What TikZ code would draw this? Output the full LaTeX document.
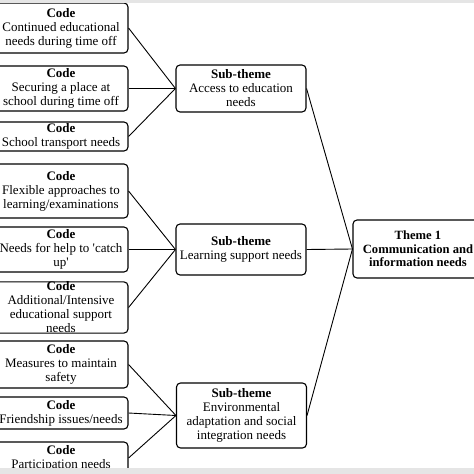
\documentclass[tikz,border=0pt]{standalone}
\usepackage{fontspec}
\setmainfont{Liberation Serif}
\begin{document}
\begin{tikzpicture}[x=1pt,y=-1pt,
  box/.style={draw,line width=1.1pt,rounded corners=4pt,align=center,inner sep=0pt,
    font=\fontsize{13}{14}\selectfont},
  codebox/.style={box,minimum width=134pt},
  subbox/.style={box,minimum width=130pt},
  link/.style={line width=0.9pt}]
\useasboundingbox (0,0) rectangle (474,474);
% codes
\node[codebox,minimum height=50pt] (c1) at (61,28) {\textbf{Code}\\Continued educational\\needs during time off};
\node[codebox,minimum height=45pt] (c2) at (61,88.5) {\textbf{Code}\\Securing a place at\\school during time off};
\node[codebox,minimum height=29pt] (c3) at (61,136.5) {\textbf{Code}\\School transport needs};
\node[codebox,minimum height=54pt] (c4) at (61,191) {\textbf{Code}\\Flexible approaches to\\learning/examinations};
\node[codebox,minimum height=45pt] (c5) at (61,249.5) {\textbf{Code}\\Needs for help to \textquotesingle catch\\up\textquotesingle};
\node[codebox,minimum height=51pt] (c6) at (61,307.5) {\textbf{Code}\\Additional/Intensive\\educational support\\needs};
\node[codebox,minimum height=47pt] (c7) at (61,364.5) {\textbf{Code}\\Measures to maintain\\safety};
\node[codebox,minimum height=32pt] (c8) at (61,413) {\textbf{Code}\\Friendship issues/needs};
\node[codebox,minimum height=32pt] (c9) at (61,458) {\textbf{Code}\\Participation needs};
% sub-themes
\node[subbox,minimum height=47pt] (s1) at (241,88.5) {\textbf{Sub-theme}\\Access to education\\needs};
\node[subbox,minimum height=51pt] (s2) at (241,249.5) {\textbf{Sub-theme}\\Learning support needs};
\node[subbox,minimum height=65pt] (s3) at (241.5,415.5) {\textbf{Sub-theme}\\Environmental\\adaptation and social\\integration needs};
% theme
\node[box,minimum width=130pt,minimum height=58pt,font=\fontsize{12.6}{13.5}\selectfont\bfseries] (t1) at (418,249) {Theme 1\\Communication and\\information needs};
% links
\foreach \c in {c1,c2,c3} \draw[link] (\c.east) -- (s1.west);
\foreach \c in {c4,c5,c6} \draw[link] (\c.east) -- (s2.west);
\foreach \c in {c7,c8,c9} \draw[link] (\c.east) -- (s3.west);
\foreach \s in {s1,s2,s3} \draw[link] (\s.east) -- (t1.west);
% scan bands
\fill[gray!20] (0,0) rectangle (474,3);
\fill[gray!20] (0,467.5) rectangle (474,474);
\end{tikzpicture}
\end{document}
